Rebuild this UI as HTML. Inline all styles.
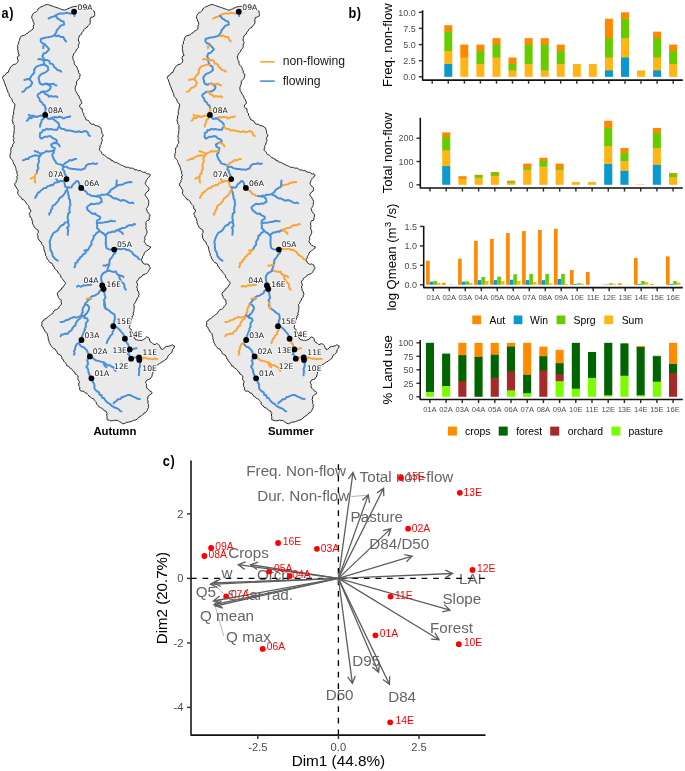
<!DOCTYPE html><html><head><meta charset="utf-8"><title>Figure</title><style>
html,body{margin:0;padding:0;background:#fff;}
body{width:685px;height:771px;overflow:hidden;}
svg{display:block;}
text{font-family:"Liberation Sans",Arial,sans-serif;}
.ml text{font-family:"DejaVu Sans",sans-serif;font-size:7.6px;fill:#151515;paint-order:stroke;stroke:#fafafa;stroke-width:2px;stroke-opacity:0.9;stroke-linejoin:round;}
.st{font-weight:bold;font-size:11.4px;fill:#000;}
.pl{font-weight:bold;font-size:14.8px;fill:#000;letter-spacing:0.7px;}
.leg{font-size:12.2px;fill:#1a1a1a;}
.tk{stroke:#333;stroke-width:1.45;}
.ax{stroke:#111;stroke-width:1.55;fill:none;stroke-linejoin:round;}
.yl{font-size:9px;fill:#4D4D4D;text-anchor:end;}
.xl{font-size:7.6px;fill:#4D4D4D;text-anchor:middle;}
.at{font-size:13.1px;fill:#000;text-anchor:middle;}
.lg{font-size:10.4px;fill:#000;}
.dl{stroke:#000;stroke-width:1.35;stroke-dasharray:5.7 5.83;}
.vl text{font-size:15.2px;fill:#666;}
.il text{font-size:10.3px;fill:#FF0000;}
.pyl{font-size:11.2px;fill:#4D4D4D;text-anchor:end;}
.pxl{font-size:11.2px;fill:#4D4D4D;text-anchor:middle;}
.pat{font-size:15.3px;fill:#000;text-anchor:middle;}
</style></head><body>
<svg width="685" height="771" viewBox="0 0 685 771">
<defs><polygon id="basin" fill="#EAEAEA" stroke="#1c1c1c" stroke-width="0.95" stroke-linejoin="round" points="32.3,15.2 33.4,13.4 34.4,12.5 35.8,12.3 36.7,11.4 37.5,10.5 38.1,8.8 39.9,7.6 41,6.8 42.2,6.4 43.4,6 44.5,5.3 46,4.8 47.4,4.4 48.6,4.8 49.8,5.2 51,5.6 52.2,6.1 53.4,6.5 54.6,6.9 55.8,7.3 57,7.7 58.2,8.1 59.4,8.5 60.6,9 61.8,9.4 63,9.8 64.2,10.2 65.5,9.8 66.7,9.3 67.9,8.8 69.1,8.2 70.5,7.6 72,7 73.5,6.7 74.9,6.4 76.5,6.4 78,6 79.3,5.3 80.6,5.2 82,5.8 83.3,6.3 84.7,5.6 86,6 87.3,6 88.1,7.3 89.5,7 90.7,7.9 91.8,8.8 92.7,10.3 94.2,11.1 94.7,13.4 94.7,14.6 94.7,15.8 93,16.9 90.7,17.5 90.2,19.2 90.1,21 90.3,22.8 89.5,24.5 88.6,25.3 87.6,26.1 87.2,27.4 86,28 84.8,28.6 83.9,29.6 83.6,30.9 82.6,31.6 81.9,32.7 81.5,34.2 80.1,35 79.2,36 79,37.4 78.5,38.7 78.3,40 78.8,41.3 79.4,42.5 79,43.9 78.3,45.1 78.6,46.5 78.3,47.8 77.2,48.9 76.2,50.1 75.8,51.7 74.7,52.8 73.6,54 73.2,55.6 72.5,56.9 73.1,58.2 73,59.6 73.8,60.8 74.4,62 74.2,63.6 74.8,64.8 75.8,65.9 76.9,67 77.5,68.3 77.7,69.8 78.7,70.9 78.4,72.7 79.7,73.7 80.3,75 79.7,76.2 79.7,77.7 79,78.9 78.1,79.8 77.4,80.7 76.4,81.5 76.6,83.1 76.4,84.7 75.6,86.3 75.1,88 75.4,89.3 75.4,90.8 76.4,91.9 77.1,93.3 77.6,94.8 79,95.8 79.2,97.3 79.6,98.7 80.9,99.7 80.9,101 81.8,102.2 81.6,103.6 80.2,104.5 79.6,106.1 80,107.4 80.9,108.2 82.2,108.7 82.3,110 82.4,111.4 82.9,112.6 83.9,113.7 83.7,115.4 84.8,116.5 85.4,118.2 86.1,119.8 87.4,120.2 88.6,120.5 89.4,121.7 90.2,123 91.1,124 92.6,124.3 94.1,124.2 95.1,125.6 96.5,125.6 98.1,126.1 99.7,126.9 100.8,128 101.3,129.4 101.7,130.8 101.8,132.2 102.1,133.6 103,134.7 103.2,136.2 102,137.2 101.7,138.6 102.4,140.1 101.8,141.6 101.2,142.8 101.4,144.2 100.3,145.2 99.9,146.5 100.2,147.9 99.2,149 99.6,150.4 100.6,151.3 101.7,152.2 102,153.7 102.9,154.7 104.4,154.9 105.3,155.8 106.3,156.8 107.2,157.8 108.7,158 109.5,159.1 110.9,159.1 111.4,160.7 112.9,160.5 113.6,161.9 114.7,162.3 116.1,162.2 117.1,162.9 118.2,163.5 119.3,164 120.4,164.7 121.5,165.2 122.7,165.6 123.8,166.2 125,166.6 126.1,167.5 127.5,167.2 128.7,167.4 129.9,168.1 131.2,168.1 132.6,168.2 133.8,168.7 134.8,170 136.2,169.8 137.5,170.2 138.7,170.7 140.2,170.4 141.3,171.3 142.4,172 143.7,172.3 145.3,172.2 146.3,173.5 147.7,174 149.3,173.8 150.4,174.9 149.4,176.9 148.3,177.6 147.5,178.5 147,179.7 146.1,180.7 146,182.1 145.2,183.2 145.7,184.4 146.3,185.5 147.3,186.3 148.7,187.5 148.9,189.4 148.3,191.1 146.8,192 146,193.1 145.1,194.1 145.2,195.6 146.5,196.7 147.3,198.2 148.2,199.7 148.9,201.3 148.6,202.7 148.7,204.1 148.3,205.5 147.8,206.6 147.2,207.7 146.3,208.6 147,210.1 147.3,211.7 148.1,212.8 149.2,213.6 149.9,214.8 149.9,216.2 149.2,217.6 149.4,219 148.8,220.3 147.3,220.6 146.3,221.5 145.8,222.7 146.2,224 145.8,225.2 146.4,226.5 145.7,228 146.3,229.3 146.8,230.7 147.1,232 146.8,233.5 146.2,234.9 145.2,236.1 144.7,237.6 145.1,239.1 144.6,240.4 144.2,241.8 145.4,243.1 146.2,244.6 147.1,245.6 148.4,245.6 149.3,246.7 150.6,246.8 150.2,248.2 149.1,249 148,250.1 146.6,250.8 145.5,251.9 144.3,252.7 144.1,254.1 143.6,255.4 142.6,256.3 142.6,257.9 141.6,259.2 141.1,260.7 142.4,261.4 142.7,262.9 144,263.6 145.1,264.4 146.7,263.9 147.9,264.4 149.1,265 149.5,266.7 150.6,268 149.7,269.1 148.8,270.2 148.4,271.6 147.4,272.5 146.5,273.5 145.3,274 144,274.5 142.7,274.9 142.1,276.2 141.1,276.9 140,277.6 138.9,278.2 138.5,279.4 137.9,280.5 136.7,281.2 136.7,282.6 137.4,284 137.7,285.4 136.6,287 137.4,288.4 137.3,289.7 137.6,291 138.8,291.8 138.6,293.3 139.6,294.2 138.5,295.1 138.8,296.7 137.6,297.6 136.9,298.7 136.7,300.1 135.8,301.1 135.2,302.3 134.8,303.6 133.8,304.5 134,305.7 134.2,306.9 134.4,308.1 133.7,309.4 134.1,310.6 133.8,311.8 133,313.1 133.7,314.9 132.1,316 132.3,317.6 131.7,319 131,320.4 130.7,321.8 130.9,323.4 129.9,324.7 129.8,326.3 129.4,327.8 130.1,328.8 131.4,329.5 131.5,331 132.3,332.5 133.6,333.5 134.2,334.7 134.2,336 134.1,337.3 135,339.1 136.1,339.7 137.4,340 138.6,340.4 139.8,340.1 141.1,340.7 142.2,340 143.4,339.7 144.5,339.1 145.5,337.8 146.8,336.8 148.6,337.7 149.4,338.7 149.5,340 150,341.5 151.3,342.3 152.7,343.4 154,344.5 155.3,344.4 156.3,343.6 157.5,343.9 158.6,344.5 159.6,345.4 159.9,346.8 160.6,348 161.3,349.1 162.7,349.3 164,348.6 165.1,347.1 166.7,346.3 168.2,346.5 169.5,345.9 171.1,345.7 172.2,344.5 173.1,345.6 174.5,345.9 174,348.1 172.7,349.3 172.2,350.9 171.9,352.6 170.4,353.6 169.3,354.7 168.1,355.7 167.6,357.2 167.1,358.5 166,359.2 164.9,359.9 163.7,361.1 162.2,361.8 160.8,362.7 159.5,363.6 158.4,364.3 157.2,364.9 156.3,366 155.1,366.7 154.5,368 154.5,369.5 153.9,370.7 152.7,371.7 153,373.2 152.2,374.5 152.2,376 151.3,377.2 150.3,378.8 148.6,379.5 146.8,380.1 145.9,381.7 145.5,383 146.7,384.1 146.3,385.4 146.5,386.8 146.8,388.1 147.9,388.8 148.8,389.7 149.5,390.8 151,391.5 152.2,392.6 151.3,394 150.1,394.6 149.1,395.4 148.1,396.2 147.9,398 147.4,399.7 148,400.9 148,402.1 147.9,403.4 148.7,404.7 148.3,406.3 148.6,407.7 147.6,409.1 147.2,410.7 146.3,411.5 145.5,412.6 144.2,412.8 143.6,414.1 142.4,414.9 141.3,415.8 140.2,416.4 139.1,417 138.4,418 137,419.2 135.5,420.1 133.9,420.2 132.5,420.9 131.1,421.6 129.6,421.9 128.2,422.2 126.7,422.3 125.3,423.1 123.8,423.8 121.6,423.1 120.8,422.1 119.6,421.7 118.7,420.9 117.5,420.4 116.2,420.4 115,420.1 113.6,420.7 112.1,420.6 110.7,420.9 109.3,420.2 107.7,420.1 106.9,419 107.1,417.7 107,416.5 106.7,415 107.1,413.5 106.3,412.1 105.7,410.9 104.3,410.8 103.4,409.9 102.7,408.7 101.6,408.1 100.4,407.7 99.2,407 98.4,405.8 97.5,404.8 96.3,404 96.4,402.4 95.5,401.4 94.6,400.4 94,399.2 92.9,398.6 91.7,398.2 90.4,397 88.8,396.1 88.3,394.9 87.4,394 86.6,393.1 85.1,392.9 84.2,391.6 82.9,391 81.3,391.3 80,390.2 79.4,389 80.1,387.7 78.9,386.5 78.8,385.3 78.7,384 79.1,382.7 79.4,381.3 78.2,380.1 77.8,378.8 78.2,377.3 77.7,375.6 76.4,374.5 75.1,374 74.9,372.4 73.6,371.8 72.9,370.7 72.1,369.7 71.3,368.7 70,368.2 69.2,367.2 68.5,366.1 66.8,365.9 66.4,364.5 65.8,363.1 64.5,362.1 63.6,360.9 63.3,359.6 61.9,358.7 61.8,357.3 61.2,356.1 60.4,355 59.1,354.5 57.7,353.8 57.1,352.4 56.5,351.1 55.5,350 54.9,348.8 53.4,348.5 52.4,347.6 51.8,346.4 50.6,345.4 50.1,343.8 49.1,342.7 49.2,341.3 48.5,340 48.2,338.7 48.2,337.3 47.8,336.1 47.4,334.9 47.3,333.6 46.3,332.5 45,331.6 44.5,330 43.6,328.8 43.2,327.2 41.8,326.4 41.7,325.2 42.1,323.9 41.8,322.7 42.3,321.2 43.8,320.5 44.5,319.1 45.9,318.6 47.1,317.7 48.3,316.6 49.5,315.8 50.4,314.9 51.5,314.1 52.7,313.5 53.2,312.2 54,310.9 55,310 56.5,309.5 57.7,308.8 58.8,307.9 59.3,306.6 60.2,305.5 61.2,304.6 61.6,303.2 61,301.6 61.5,300.2 60.3,299.5 59.2,298.7 58.5,297.5 58.2,296.2 57.5,295 57.3,293.6 57.9,292.2 59.3,291.4 60,290 61.3,289.5 61.6,288 62.9,287.5 63.6,286.4 64.4,284.9 65.5,283.6 65.2,282.2 64.2,281.3 63.1,280.4 62.7,279.1 61.7,278.2 60.8,277.1 60.7,275.7 60,274.5 59,273.4 57.8,272.4 57.3,270.9 56.2,270.1 55.3,269.3 54.5,268.2 54.2,266.8 52.9,266 52.7,264.5 51.7,263 50,262.7 49.1,261.5 48.3,260.2 47.3,259.1 46.7,257.9 46.5,256.5 45.5,255.5 45.6,253.9 44.9,252.4 44.5,250.9 44,249.6 43.9,248.1 43.6,246.7 42.7,245.5 41.9,244.5 41.5,243.1 41.1,241.8 39.8,241.1 39.1,240 38.3,238.7 37.8,237.4 38,235.8 37.3,234.5 37.8,233.4 38.5,232.3 38.2,230.9 37.7,229.6 36.4,229.1 35.2,228.1 34.2,227 33.6,225.5 32.8,224.2 32.3,222.9 32.5,221.3 31.8,220 31.7,218.7 31.2,217.6 29.9,216.9 30.1,215.4 29.1,214.5 29.5,213.2 30.2,212.1 30.9,210.9 30.6,209.7 29.3,209 28.8,207.9 29.2,206.4 28.2,205.5 27.1,204.4 26.2,203.2 25.5,201.8 24.7,200.8 23.8,199.8 22.2,199.6 21.8,198.2 20.7,197.4 19.9,196.4 19.1,195.4 18.2,194.5 17.6,193.2 17.9,191.8 18.2,190.3 17.3,189.1 16.6,188.1 16.2,186.9 15.1,186 14.8,184.8 14.5,183.6 15.6,182.9 16.4,181.8 16,180.5 17.2,179.4 17.4,178.2 16.4,176.9 17.8,175.8 17.3,174.5 16.8,173.3 17.1,172 16.7,170.8 15.8,169.8 16,168.4 15.5,167.3 15.1,166.1 14.8,164.9 13.5,164.1 13.6,162.7 12.7,161.8 12.7,160.4 11.8,159.5 11.1,158.5 10.1,157.7 10,156.4 10.1,155.2 10.1,153.9 10.8,152.8 10.8,151.6 10.8,150.3 10.9,149.1 11,147.8 12.2,147 12.7,145.9 12.7,144.5 13.6,143.6 14.1,142.3 13.8,141 13.1,139.7 14.2,138.4 13.1,137.1 13.4,135.8 13.6,134.5 14,133.2 14,131.9 14.1,130.7 14.3,129.4 14.2,128.1 14.1,126.8 14.5,125.5 13.5,124.6 12.9,123.5 13.1,122 12.3,121 12.3,119.5 12.9,118.3 12.8,116.9 13,115.6 13.6,114.4 13.6,113 13.6,111.7 13.7,110.3 14.3,109.1 14.4,107.5 14.9,105.9 14.7,104.1 13.6,102.6 12.4,101.6 12.3,100 11.4,98.7 10.4,97.4 9.4,96.3 9.1,94.9 9,93.5 8,92.4 7.8,91 6.9,89.4 6.5,87.7 5.7,86.2 5.2,84.5 4.6,82.8 3.9,81.2 3.6,79.7 2.6,78.6 2.7,77.3 3.2,76 4.8,75.4 5.8,74.1 6.8,72.7 8.4,72.2 8.8,70.4 9.7,68.9 10.3,67.3 11.7,66.3 12.7,64.9 14.3,64.4 15.6,64.1 16.6,63.3 17.5,62.4 18.2,60.5 17.4,58.9 17.5,57.2 18.2,55.9 19.5,55.3 18.7,54.1 18.2,52.7 18.2,51 17.5,49.5 17.9,48.2 17.8,46.9 17.5,45.6 18.3,44.4 18.8,43 18.7,41.6 19.5,40.4 19.7,39.1 20.1,37.8 20.7,36.5 22,35.8 23.3,35.5 24.6,35.2 25.7,34.6 26.6,33.5 27.9,33.2 28.6,32 29.8,31.3 31.8,30 32.9,29.2 33.4,28 33.1,26.1 34,24.5 34,23.2 33.7,22 32.8,21 32.8,19.3 31.7,18.1 31.8,16.6"/><polyline id="r0" points="74.1,11.7 71.4,13.5 69.2,13.4 66.7,12.8 64.3,13.4 62,13.4 59.5,13.5 57.6,14.4 55,15.8"/><polyline id="r1" points="55,15.8 53.2,16.6 50.9,17.3 48.6,18.5"/><polyline id="r2" points="74.1,11.7 74.6,13.8 74.3,16"/><polyline id="r3" points="55,15.8 56.6,17.1 57.7,18.6 59.6,19.5 61.3,20.9 63.5,21.4 64.2,24.6 62.1,25.1 60.2,26.1 58.2,28.8 56.8,30.2 56.3,32.2 54.5,35"/><polyline id="r4" points="54.5,35 56,36.2 58.7,35.5 60.9,37.1 63.5,37 64.4,39.5 66.1,41.5"/><polyline id="r5" points="54.5,35 52.8,36.1 50.4,36.8 48.1,37.2 45.7,37.5 43.1,38.3 40.8,39 40.7,41.4 42.4,43.3 44.7,44 46.3,46 47.9,47.6 49.2,49.4 46.9,51.7 45.8,52.9 43.7,53.3 42.3,56.5 43.8,58.5 43.5,60.9 44.1,63.1 44.9,65 47.8,66.6 48.3,70.1 46,72 44.2,73 42.2,73.6 40.7,74.5 39.7,75.9 38.5,77.8 39.1,80 39.4,82 40.3,83.8 42.5,84.7 45.1,83.8 47.4,83.6 48.9,85.2 50.8,86.4 50.4,88.6 49.2,89.9 47.3,91.2 45.2,91.6 43.1,91.7 41.1,92 39.8,93.4 38,94.2 37.5,96 39.5,98.8 40,101.1 42,102.3 42.9,104.3 44.6,105.4 45.6,108.5"/><polyline id="r6" points="45.6,108.5 45.4,110.4 44.8,112.6 45.2,114.9"/><polyline id="r7" points="43.6,45.6 43.2,48.2"/><polyline id="r8" points="45.1,64.9 43.7,64.7 41.7,64.7 39.9,65.4 37.6,66 35.9,67.1 34,69.8 34.3,71.8 33.6,73.5 32.1,75 30.9,76.5 29.8,79.4 30.8,80.7 32.2,82.5 30.8,85.8 28.8,87.2 26.3,88.1 25.2,89.8 23.8,91.4 22.3,91.9"/><polyline id="r9" points="29.5,79.4 27.9,79 25.8,79.5 24.3,80"/><polyline id="r10" points="44.1,59.5 42.4,59.9 40,59 38.3,59.2"/><polyline id="r11" points="44.1,59.5 45.9,60.4 47.6,60 49.3,61 49.8,63.4 52,63.8 53.5,65.3 54.2,67.2 56.1,68.3 57.2,70.1 59.7,70.4 61.2,71.6"/><polyline id="r12" points="45.1,84.1 47,84.3 49.2,84.1 51,84.3 53.2,83.6 54.9,85 56.5,85.4"/><polyline id="r13" points="43,91.4 44.2,92.8 45.8,94.4 47.8,94.7 49,96.7 51.3,95.9 53.4,96.8 55.8,96.2 57.5,97.1"/><polyline id="r14" points="45.2,115.5 43.7,116 41.2,115.6 39.2,115.9 36.9,117 34.6,116.2 32.7,116.9 31.2,118.2 29.1,117.5 28.1,119.8 26.8,120.8"/><polyline id="r15" points="34.7,116.6 33.1,115.7 30.4,115.8 28.8,114.9"/><polyline id="r16" points="50.5,118.6 53.1,117.4 54.8,117.1 56.9,117.5 59.1,116.8 61.4,117.2 63.6,118.6 65.3,117.6 67.3,117 69.2,117.1 70.2,116.2"/><polyline id="r17" points="45.2,114.9 46.5,116.6 47.5,118.3 48.9,119 51.2,118.3 53.3,119.1 55.3,120.8 57.1,122 58.9,123.9 59.2,126 58.1,127.7 57.2,129.8 55.1,129.8 52.8,129.6 50.5,129.1 48.7,129.5 46.5,128.7 44.8,130.2 42.8,130 42.1,132.2 40.1,132.9 40,134.6 39.8,137 41.2,138.7 42.8,137.8 44.8,136.7 47.2,136.8 49.1,136.1 51.2,136.5 52.7,138.2 54.3,138.7 56.6,140 57,141.8 54.2,142.5 52.3,144 51.1,144.5 51.9,146.9 54.8,148.1 54.1,150.2 53.8,152.5 52.5,154 52.4,155.9 53.3,157.6 54,159.6 55.4,161.2 56.2,163.1 58,163.9 59.6,164.3 62.7,165.1 63.2,167.2 62.6,169.5 64.3,171 64.6,173.4 65.6,175.3 66.7,177.4 66.4,179.1"/><polyline id="r18" points="45.2,115.5 44.4,116.7 43.7,118.6 41.8,119.8 41.3,122.1 40.3,124.6 40,126.7"/><polyline id="r19" points="59,126 61,128.6 62.4,128.9 64.2,129 65.8,130.4 67.7,130.2 69.8,130.6 71.9,131 74.1,131.5 76.3,132.1 78.6,131.2 80.7,132 82.6,132.1 84.4,131 86.3,131.3 87.9,132.8 88.5,135.1 89.9,135.9"/><polyline id="r20" points="54.4,143.1 57.3,143.4 58.9,144.8 59.7,146.4"/><polyline id="r21" points="53.5,150.3 52.3,151.1 50.4,151.2 48.3,151.5 46.3,151 44.7,152.4 43,152.9 41.3,154.2 39.6,153.2 37.9,152 35.9,151.5 34.7,151"/><polyline id="r22" points="41.3,153.6 40.2,155.2 39.1,157.5 38.5,159.2 39.2,161 38.5,162.8 37.9,164.5 37.7,166.3 38.5,168.2 37.3,170 36.9,171.9 36.7,173.3"/><polyline id="r23" points="36.7,173.3 35.4,174.5 34.6,177.2 32.5,177.6 30.8,178.6"/><polyline id="r24" points="34.7,177.3 34.8,178.9 34.8,181 35.4,182.5"/><polyline id="r25" points="40.3,155.8 38.9,156.1 36.8,155.2 34.6,155.5 32.9,156 31.2,156.7 29.5,157.1 28.4,158.9 26,158.8 24.3,160 22.9,160.2"/><polyline id="r26" points="62.8,166.5 64.1,167.1 66.2,166.6 68.2,167.9 70.1,168.6 72.4,169.1 74.6,169.1 76.8,169.6 79.1,169.4 81.4,169.8 83.1,168.9 84.8,168.5 85.6,166.8 86.4,165.1 88.7,164 91.3,163.8 93.3,163.3 95.5,164.1 97.1,163.5"/><polyline id="r27" points="62.3,165.4 63.9,164.5 65.7,162.7 67.8,161.8 69.4,160.1 71.6,160.5 74,159.3 76.1,158.9"/><polyline id="r28" points="66.4,179.1 65.6,180.7 64.4,182.3 64.8,184.5 65.1,186.5 67,187.3"/><polyline id="r29" points="67,187.3 69.4,187.4 71.4,187.4 72.4,185.3 73.6,183.9 75.2,182.7 76.5,181.1 78,181.2 79.2,183 79.3,184.9 80.7,186.5 81.2,187.9"/><polyline id="r30" points="81.2,187.9 82.4,189 84.6,190.7 86.2,191.7 87.5,193.9 89.7,194.6 91.2,195.7 93.5,196"/><polyline id="r31" points="93.5,196 96.6,196.5 98.4,196.3 99.9,197.6 101.3,198.6 101.7,200.8 101.6,202.3 100.4,202.3 98.8,203.7 96.6,203.4 94.9,204.2 93,204 91.1,203.8 89.9,204.8 88,206 86.7,207.7 87.6,209.9 89.9,211.7 91.1,212.9 92.9,213.9 95.2,213.4 96.4,215.1 98.8,216.1 100.3,217.3 99.7,219.2 97.2,220.3 96.8,222.7 97,224.4 97.3,226 97,228.1 98.5,229.5 100,231.2 101.6,232.5 103.7,233.5 104.7,235.2 106,236.3 106,238.2 105.7,240.1 106,241.9 105.6,243.6 106.1,245.3 106.4,247.9 108.4,249.1 110,249.6 112.4,249.5 114.2,249.6"/><polyline id="r32" points="96.6,196.3 97.7,195.4 99.6,196 101.4,194.8 103.6,194.7 105.6,194.5 107.3,194.1 108.8,192.6 110.1,191.6 110.7,189.9 112.2,189.2 113.9,187.8 115.9,187.1 116.7,185.8"/><polyline id="r33" points="116.7,185.8 118.2,185.2 120.4,184.7 123,184.5 124.5,183.2 126.5,182.8 128.5,182.2 130.3,182 131.6,182.3"/><polyline id="r34" points="116.7,185.8 116.4,184.2 116.7,182.1 116.7,180.5"/><polyline id="r35" points="107.1,193.7 108,195 110.1,195.6 112,197.1 113.9,198.5 115.9,198.3 117.4,199.2 119.1,199.8 120.8,200.8 123.1,200 124.8,200.5 126.7,201.4 128.6,202.6 130.5,203.1 132.4,202.5 133.4,203.3"/><polyline id="r36" points="98,223 99.5,222.7 101.5,222.7 103.6,222.5 105.3,222.1 107,222 108.8,221.5 111,220.8 113.3,221.2 115,221.2"/><polyline id="r37" points="105.3,234.8 106.6,234.2 108.3,232.6 110.7,232.5 112.3,231.4 114.6,231.8 116.2,230.3 117.6,230.4"/><polyline id="r38" points="117.6,230.4 118.6,229.3 120.4,229.1 122.2,227.9 124.6,228 126.4,226.9 128.1,225.6 130.1,225 132.3,225.4 133.8,224.1 135.1,224.3"/><polyline id="r39" points="119,230.5 120.2,231.5 122,232.6 122.9,233.9"/><polyline id="r40" points="99,231 98.1,232.2 96.2,233.3 95.2,235.1 93.5,236.2 93.6,238.3 92.5,240.1 91.3,242 91.5,244.5 90,246.1 89.2,247.8 88.2,249.4 87.4,250.4"/><polyline id="r41" points="87.4,250.4 85.9,250.9 85.4,253.4 83.2,254.3 82,256.1 80.1,257.3 79.4,259.4 77.6,260.3 77.4,262.3 75.4,262.9 75.2,265.6 74.5,267.3"/><polyline id="r42" points="87.6,250 84.3,250.6"/><polyline id="r43" points="67.5,188 66.9,190.1 68.2,192.7 68.1,194.5 68.9,196.1 68.7,198.2 69.9,199.6 70.1,201.4 70.1,203.2 70.5,205 69.6,206.7 69.5,208.5 69.4,210.3 70,212.2 68.1,213.6 68,215.6 67.6,217.3 67.8,219 68.2,220.7 67.9,222.6 68.7,224.3 68.7,226.2 67.1,227.8 68.1,229.6 68,231.7 67.8,233.5 67.7,234.8"/><polyline id="r44" points="68.3,221 67.3,222.3 64.8,222.4 63.6,224.7 61.7,225.2 60.3,226.5 59.1,228 58.2,229.8 56.8,231.1 55,232 53.4,233 52.6,234.6 51.6,236.4 50.8,238.2 50.2,240.1 49.6,241.9 50.1,244 50.1,246.1 50.2,248 50.6,250.4 52,252.4 52.4,254.3 52.8,256.3 54.1,257.5 55,258.9 57.7,260.6"/><polyline id="r45" points="67.3,190 65.9,190.7 65.1,192.8 63.8,194.7 62.4,196.3 60.8,197.4 59.3,198.4 58.5,200.3 57.5,201.8 56.2,202.9 55.4,204.4 53.6,205.2 52.2,206.4 52.4,208.5 50.8,210 50.8,212.1 49.2,213.3 49.3,214.7"/><polyline id="r46" points="64.5,180.5 62.8,181.3 60.3,180.7 58.3,182.1 56.2,182.4 54.2,183.1 52.9,185.2 50.9,184.9 49.3,185.9 47.3,186.2 46.1,188.1 44,188.1 42.5,189.5 40.9,190.5 39.7,192 37.7,193 36.9,195.1 35.7,196.7 35.3,198"/><polyline id="r47" points="56.3,179.3 58.5,181.8"/><polyline id="r48" points="108,271 109.6,270.6 111.7,271.6 113.7,271.9 116,271.6 116.8,273.8 118.5,274.8 120.3,275.8 122.6,276 123.5,277.3"/><polyline id="r49" points="118.7,275 119.3,276.3 119.5,278.4 120.6,279.9 121.5,282 123.5,283.4 124.4,284.8 124.3,287 125.1,288.7 125.9,289.8"/><polyline id="r50" points="114.2,249.6 115.1,251 115.4,252.8 113.8,254.1 112.5,256.3 111.2,258.2 109.6,260 109.5,262.1 109.3,264.2 108.4,266.6 107.6,269 107.1,270.9 105.7,272 103.8,272.8 102.4,274.3 101.3,276.1 101.2,278.5 101.2,280.2 102,282.1 101.6,284.2 102.2,285.4"/><polyline id="r51" points="109.2,265 107.4,264.5 105.2,265.8 103.4,265.4"/><polyline id="r52" points="114.2,249.6 115.8,249.3 118,248.7 120.3,249.4 122.4,248.8 124.7,248.4 126.6,250 128.6,249.8 130.1,251 131.9,252 133,253.9 134.2,255.2 135.9,256.2 137.7,257.1 138.4,258.9 139.6,259.3"/><polyline id="r53" points="91.4,284.6 89.9,284.9 87.8,285 85.5,285.6 83.3,285.2 81,286.8 78.4,285.7 76.9,286.6"/><polyline id="r54" points="102.2,285.4 101.9,287.4 101.3,289.9 99.7,290.9 99.1,292.7 97.8,293.8 96.2,294.6 94.6,295.7 92.9,296 90.9,296.9 90.2,299.1 88.2,299.9 87.1,301.6 84.8,304.1 87.6,305 89.2,307.4 89,309.3 88.1,311 86.8,313.3 84.6,315.1 84.1,317.7 87.2,318.5 87.9,320.6 85.8,323.3 85.8,325 85.9,326.8 84.7,328.5 84.8,330.2 83.4,333 82.6,335.1 81.7,337.2 81.5,340"/><polyline id="r55" points="86.6,298.9 89,298.1 91.4,298.6"/><polyline id="r56" points="85,304 84.3,306 82.9,308.3 82.4,310 82.9,311.9 81.7,313.5 81.6,315.5 78.8,316.9 76.3,317.4 73.5,317.1 72.2,317.8 70.3,318.4 68.4,319.7 65.8,320.3 64.1,321.4 62.1,322.1 60.5,322"/><polyline id="r57" points="81.5,315.4 80.9,317 80.1,318.5 77.7,320.3 75.8,323 75.5,325.4 73.5,326.7 72.4,328.6 71.3,330.5 69.1,331.8 67.6,334 65.4,333.6 63.2,334.6 61.4,334.6 60.5,336.4"/><polyline id="r58" points="81.5,315.4 83.3,316.6 85,315.4"/><polyline id="r59" points="103.6,288.9 103.2,290.7 104.5,292.9 104.7,295.3 105.5,297.8 103.9,300.1 104.7,302.6 104.1,305.2 104.9,307.5 107.2,309.3 109.1,310.5 110.8,312.2 112.5,313.3 114.4,314.3 114.8,316.5 115,318.7 114,321.1 114,323.5 113.3,326.2"/><polyline id="r60" points="104.2,302.6 104.9,304.4 105.2,307.1 105.8,309"/><polyline id="r61" points="113.3,326.2 114.3,327.7 113.8,329.9 112.6,331.7 112.5,334 110.3,335.8 109.7,337.5 108.1,339.4 107.2,341.5 106.7,343.1"/><polyline id="r62" points="113.3,326.2 115.1,326.3 117.1,327.5 118.4,328.7 119.9,330.1 121,331.6 122.5,333.1 123.5,334.7 124.8,336.8 124.9,338.7"/><polyline id="r63" points="124.9,338.7 125,340.3 126.3,342 127.7,343.7 128.6,345.7 129.3,347.8 129.7,349.4"/><polyline id="r64" points="129.7,349.4 133,348.9 135,348.5 136.6,348.2"/><polyline id="r65" points="129.7,349.4 129.2,351.5 127.9,354.1 129.7,355.6 130.6,357.3 131.1,358.7"/><polyline id="r66" points="131.1,358.7 132.6,358.6 134.5,357.4 137,357.4 139,358"/><polyline id="r67" points="140,358.5 141.9,359 143.7,357.4 146,358.3 148,358.7 150.6,358.8 152.8,359.2 155.3,358.6 157.1,359.2"/><polyline id="r68" points="139.3,359.9 139.9,361.1 139.8,363 140.1,365 139.8,367 138.8,369 139.3,370.9 139,373.5 138.8,375.3"/><polyline id="r69" points="81.5,340 80.3,341.6 78.9,343.1 79.8,344.8 81.5,346.6 83.8,347.3 85.5,349 86.8,350.3 87.6,352 88,353.6 89.9,356.4"/><polyline id="r70" points="79,343.1 76.8,344 76.1,345.4 75.2,347.5 75.1,349.3 74,351.3 74.7,353.5 73.9,354.8"/><polyline id="r71" points="89.9,356.4 91.3,356.7 92.6,358.2 94.3,359.2 95.8,360.4 97.6,360.7 99.3,361.1 101.7,361.9 104.2,362.4 104.2,365 105.4,366.4 106.5,367.3"/><polyline id="r72" points="103.8,362.8 105.4,363.6 107.4,365.2 109.9,365.3 111.8,366.7 113.8,367.5 114.5,369.7 115.5,370.9"/><polyline id="r73" points="89.9,356.4 88.5,358 87.1,360.5 88,362.6 87.8,364.6 86.3,366.6 87.6,368.4 88.2,370.2 88.5,372.3 89.3,374.4 90.1,376.6 91.3,378.4 92.5,380.5 93.2,382.7 94.4,384.4 94.4,386.5 94.5,388.7 95.8,390.2 97.3,391.5 99.1,392.4 99.4,394.7 101.6,395.3 102,397.5 104.1,398.3 105.2,400.1 106.5,401.7 108.2,403.1 110.3,404.1 111.3,405.5 114.1,407.3 115.5,407.8 117.3,408.5 119.1,409.5 120.3,411.1 121.6,411.4"/><polyline id="r74" points="113.6,403.4 114.4,402.1 116.4,401.1 117.7,399.2 120.2,399.2 121.7,397.3 123.8,396.7 126.3,395.6 128.2,394.9 130.4,395.1 132.5,396.3 135.5,397.6 137.7,398.8 139.9,399"/></defs>
<g transform="translate(0,0)">
<use href="#basin"/>
<g fill="none" stroke-width="2.0" stroke-linecap="round" stroke-linejoin="round">
<use href="#r0" stroke="#4A90D9"/>
<use href="#r1" stroke="#4A90D9"/>
<use href="#r2" stroke="#4A90D9"/>
<use href="#r3" stroke="#4A90D9"/>
<use href="#r4" stroke="#4A90D9"/>
<use href="#r5" stroke="#4A90D9"/>
<use href="#r6" stroke="#4A90D9"/>
<use href="#r7" stroke="#4A90D9"/>
<use href="#r8" stroke="#4A90D9"/>
<use href="#r9" stroke="#4A90D9"/>
<use href="#r10" stroke="#4A90D9"/>
<use href="#r11" stroke="#4A90D9"/>
<use href="#r12" stroke="#4A90D9"/>
<use href="#r13" stroke="#4A90D9"/>
<use href="#r14" stroke="#4A90D9"/>
<use href="#r15" stroke="#4A90D9"/>
<use href="#r16" stroke="#4A90D9"/>
<use href="#r17" stroke="#4A90D9"/>
<use href="#r18" stroke="#4A90D9"/>
<use href="#r19" stroke="#4A90D9"/>
<use href="#r20" stroke="#4A90D9"/>
<use href="#r21" stroke="#4A90D9"/>
<use href="#r22" stroke="#4A90D9"/>
<use href="#r23" stroke="#F8A53C"/>
<use href="#r24" stroke="#F8A53C"/>
<use href="#r25" stroke="#4A90D9"/>
<use href="#r26" stroke="#4A90D9"/>
<use href="#r27" stroke="#4A90D9"/>
<use href="#r28" stroke="#4A90D9"/>
<use href="#r29" stroke="#4A90D9"/>
<use href="#r30" stroke="#4A90D9"/>
<use href="#r31" stroke="#4A90D9"/>
<use href="#r32" stroke="#4A90D9"/>
<use href="#r33" stroke="#4A90D9"/>
<use href="#r34" stroke="#4A90D9"/>
<use href="#r35" stroke="#4A90D9"/>
<use href="#r36" stroke="#4A90D9"/>
<use href="#r37" stroke="#4A90D9"/>
<use href="#r38" stroke="#4A90D9"/>
<use href="#r39" stroke="#4A90D9"/>
<use href="#r40" stroke="#4A90D9"/>
<use href="#r41" stroke="#4A90D9"/>
<use href="#r42" stroke="#4A90D9"/>
<use href="#r43" stroke="#4A90D9"/>
<use href="#r44" stroke="#4A90D9"/>
<use href="#r45" stroke="#4A90D9"/>
<use href="#r46" stroke="#4A90D9"/>
<use href="#r47" stroke="#4A90D9"/>
<use href="#r48" stroke="#4A90D9"/>
<use href="#r49" stroke="#4A90D9"/>
<use href="#r50" stroke="#4A90D9"/>
<use href="#r51" stroke="#4A90D9"/>
<use href="#r52" stroke="#4A90D9"/>
<use href="#r53" stroke="#4A90D9"/>
<use href="#r54" stroke="#4A90D9"/>
<use href="#r55" stroke="#F8A53C"/>
<use href="#r56" stroke="#4A90D9"/>
<use href="#r57" stroke="#4A90D9"/>
<use href="#r58" stroke="#4A90D9"/>
<use href="#r59" stroke="#4A90D9"/>
<use href="#r60" stroke="#4A90D9"/>
<use href="#r61" stroke="#4A90D9"/>
<use href="#r62" stroke="#4A90D9"/>
<use href="#r63" stroke="#4A90D9"/>
<use href="#r64" stroke="#4A90D9"/>
<use href="#r65" stroke="#4A90D9"/>
<use href="#r66" stroke="#4A90D9"/>
<use href="#r67" stroke="#F8A53C"/>
<use href="#r68" stroke="#4A90D9"/>
<use href="#r69" stroke="#4A90D9"/>
<use href="#r70" stroke="#4A90D9"/>
<use href="#r71" stroke="#4A90D9"/>
<use href="#r72" stroke="#4A90D9"/>
<use href="#r73" stroke="#4A90D9"/>
<use href="#r74" stroke="#4A90D9"/>
</g>
<g fill="#000">
<circle cx="74.1" cy="11.7" r="2.9"/>
<circle cx="45.2" cy="114.9" r="2.9"/>
<circle cx="66.5" cy="179.1" r="2.9"/>
<circle cx="81.2" cy="187.9" r="2.9"/>
<circle cx="114.2" cy="249.6" r="2.9"/>
<circle cx="102.2" cy="285.4" r="2.9"/>
<circle cx="103.6" cy="288.9" r="2.9"/>
<circle cx="113.3" cy="326.2" r="2.9"/>
<circle cx="124.9" cy="338.7" r="2.9"/>
<circle cx="129.7" cy="349.4" r="2.9"/>
<circle cx="131.1" cy="358.7" r="2.9"/>
<circle cx="139" cy="357.4" r="2.9"/>
<circle cx="139.3" cy="359.9" r="2.9"/>
<circle cx="81.5" cy="340" r="2.9"/>
<circle cx="89.9" cy="356.4" r="2.9"/>
<circle cx="91.4" cy="378.3" r="2.9"/>
</g>
<g class="ml">
<text x="77.6" y="9.8">09A</text>
<text x="48.1" y="112.6">08A</text>
<text x="48.3" y="177">07A</text>
<text x="84.3" y="185.9">06A</text>
<text x="117" y="247">05A</text>
<text x="83.6" y="283">04A</text>
<text x="106.5" y="286.6">16E</text>
<text x="116.5" y="323.8">15E</text>
<text x="128.2" y="336.8">14E</text>
<text x="112.4" y="352.9">13E</text>
<text x="114.1" y="369.1">12E</text>
<text x="142.6" y="354.8">11E</text>
<text x="142.3" y="370.6">10E</text>
<text x="84.5" y="337.6">03A</text>
<text x="92.7" y="354.1">02A</text>
<text x="94.4" y="376">01A</text>
</g>
<text class="st" x="93.4" y="434.6">Autumn</text>
</g>
<g transform="translate(164.7,0)">
<use href="#basin"/>
<g fill="none" stroke-width="2.0" stroke-linecap="round" stroke-linejoin="round">
<use href="#r0" stroke="#F8A53C"/>
<use href="#r1" stroke="#F8A53C"/>
<use href="#r2" stroke="#4A90D9"/>
<use href="#r3" stroke="#4A90D9"/>
<use href="#r4" stroke="#F8A53C"/>
<use href="#r5" stroke="#4A90D9"/>
<use href="#r6" stroke="#F8A53C"/>
<use href="#r7" stroke="#F8A53C"/>
<use href="#r8" stroke="#F8A53C"/>
<use href="#r9" stroke="#F8A53C"/>
<use href="#r10" stroke="#F8A53C"/>
<use href="#r11" stroke="#F8A53C"/>
<use href="#r12" stroke="#F8A53C"/>
<use href="#r13" stroke="#F8A53C"/>
<use href="#r14" stroke="#F8A53C"/>
<use href="#r15" stroke="#F8A53C"/>
<use href="#r16" stroke="#F8A53C"/>
<use href="#r17" stroke="#4A90D9"/>
<use href="#r18" stroke="#F8A53C"/>
<use href="#r19" stroke="#F8A53C"/>
<use href="#r20" stroke="#F8A53C"/>
<use href="#r21" stroke="#F8A53C"/>
<use href="#r22" stroke="#F8A53C"/>
<use href="#r23" stroke="#F8A53C"/>
<use href="#r24" stroke="#F8A53C"/>
<use href="#r25" stroke="#F8A53C"/>
<use href="#r26" stroke="#4A90D9"/>
<use href="#r27" stroke="#F8A53C"/>
<use href="#r28" stroke="#F8A53C"/>
<use href="#r29" stroke="#4A90D9"/>
<use href="#r30" stroke="#F8A53C"/>
<use href="#r31" stroke="#4A90D9"/>
<use href="#r32" stroke="#4A90D9"/>
<use href="#r33" stroke="#F8A53C"/>
<use href="#r34" stroke="#4A90D9"/>
<use href="#r35" stroke="#4A90D9"/>
<use href="#r36" stroke="#4A90D9"/>
<use href="#r37" stroke="#4A90D9"/>
<use href="#r38" stroke="#F8A53C"/>
<use href="#r39" stroke="#F8A53C"/>
<use href="#r40" stroke="#4A90D9"/>
<use href="#r41" stroke="#F8A53C"/>
<use href="#r42" stroke="#F8A53C"/>
<use href="#r43" stroke="#4A90D9"/>
<use href="#r44" stroke="#4A90D9"/>
<use href="#r45" stroke="#F8A53C"/>
<use href="#r46" stroke="#F8A53C"/>
<use href="#r47" stroke="#F8A53C"/>
<use href="#r48" stroke="#F8A53C"/>
<use href="#r49" stroke="#F8A53C"/>
<use href="#r50" stroke="#4A90D9"/>
<use href="#r51" stroke="#F8A53C"/>
<use href="#r52" stroke="#F8A53C"/>
<use href="#r53" stroke="#F8A53C"/>
<use href="#r54" stroke="#4A90D9"/>
<use href="#r55" stroke="#F8A53C"/>
<use href="#r56" stroke="#F8A53C"/>
<use href="#r57" stroke="#F8A53C"/>
<use href="#r58" stroke="#4A90D9"/>
<use href="#r59" stroke="#4A90D9"/>
<use href="#r60" stroke="#F8A53C"/>
<use href="#r61" stroke="#F8A53C"/>
<use href="#r62" stroke="#4A90D9"/>
<use href="#r63" stroke="#F8A53C"/>
<use href="#r64" stroke="#F8A53C"/>
<use href="#r65" stroke="#4A90D9"/>
<use href="#r66" stroke="#F8A53C"/>
<use href="#r67" stroke="#F8A53C"/>
<use href="#r68" stroke="#4A90D9"/>
<use href="#r69" stroke="#4A90D9"/>
<use href="#r70" stroke="#F8A53C"/>
<use href="#r71" stroke="#F8A53C"/>
<use href="#r72" stroke="#F8A53C"/>
<use href="#r73" stroke="#4A90D9"/>
<use href="#r74" stroke="#4A90D9"/>
</g>
<g fill="#000">
<circle cx="74.1" cy="11.7" r="2.9"/>
<circle cx="45.2" cy="114.9" r="2.9"/>
<circle cx="66.5" cy="179.1" r="2.9"/>
<circle cx="81.2" cy="187.9" r="2.9"/>
<circle cx="114.2" cy="249.6" r="2.9"/>
<circle cx="102.2" cy="285.4" r="2.9"/>
<circle cx="103.6" cy="288.9" r="2.9"/>
<circle cx="113.3" cy="326.2" r="2.9"/>
<circle cx="124.9" cy="338.7" r="2.9"/>
<circle cx="129.7" cy="349.4" r="2.9"/>
<circle cx="131.1" cy="358.7" r="2.9"/>
<circle cx="139" cy="357.4" r="2.9"/>
<circle cx="139.3" cy="359.9" r="2.9"/>
<circle cx="81.5" cy="340" r="2.9"/>
<circle cx="89.9" cy="356.4" r="2.9"/>
<circle cx="91.4" cy="378.3" r="2.9"/>
</g>
<g class="ml">
<text x="77.6" y="9.8">09A</text>
<text x="48.1" y="112.6">08A</text>
<text x="48.3" y="177">07A</text>
<text x="84.3" y="185.9">06A</text>
<text x="117" y="247">05A</text>
<text x="83.6" y="283">04A</text>
<text x="106.5" y="286.6">16E</text>
<text x="116.5" y="323.8">15E</text>
<text x="128.2" y="336.8">14E</text>
<text x="112.4" y="352.9">13E</text>
<text x="114.1" y="369.1">12E</text>
<text x="142.6" y="354.8">11E</text>
<text x="142.3" y="370.6">10E</text>
<text x="84.5" y="337.6">03A</text>
<text x="92.7" y="354.1">02A</text>
<text x="94.4" y="376">01A</text>
</g>
<text class="st" x="103.3" y="434.6">Summer</text>
</g>
<line x1="260.1" y1="61.8" x2="274.7" y2="61.8" stroke="#F8A53C" stroke-width="1.6"/>
<line x1="260.1" y1="81.1" x2="274.7" y2="81.1" stroke="#4A90D9" stroke-width="1.6"/>
<text class="leg" x="282.7" y="65.4">non-flowing</text>
<text class="leg" x="282.7" y="84.7">flowing</text>
<text class="pl" transform="translate(1.5,17.5) scale(0.86,1)">a)</text>
<text class="pl" transform="translate(348.4,17.5) scale(0.86,1)">b)</text>
<text class="pl" transform="translate(162.8,466) scale(0.86,1)">c)</text>
<rect x="444.3" y="63.44" width="8" height="13.41" fill="#0A99CC"/>
<rect x="444.3" y="50.53" width="8" height="13.41" fill="#FFB515"/>
<rect x="444.3" y="31.16" width="8" height="19.87" fill="#66CC00"/>
<rect x="444.3" y="25.21" width="8" height="6.45" fill="#FF8800"/>
<rect x="460.3" y="56.98" width="8" height="19.87" fill="#FFB515"/>
<rect x="460.3" y="44.57" width="8" height="12.91" fill="#FF8800"/>
<rect x="476.4" y="63.44" width="8" height="13.41" fill="#FFB515"/>
<rect x="476.4" y="50.53" width="8" height="13.41" fill="#66CC00"/>
<rect x="476.4" y="44.57" width="8" height="6.45" fill="#FF8800"/>
<rect x="492.5" y="56.98" width="8" height="19.87" fill="#FFB515"/>
<rect x="492.5" y="44.07" width="8" height="13.41" fill="#66CC00"/>
<rect x="492.5" y="38.12" width="8" height="6.46" fill="#FF8800"/>
<rect x="508.5" y="69.89" width="8" height="6.95" fill="#FFB515"/>
<rect x="508.5" y="63.44" width="8" height="6.95" fill="#66CC00"/>
<rect x="508.5" y="57.48" width="8" height="6.46" fill="#FF8800"/>
<rect x="524.6" y="63.44" width="8" height="13.41" fill="#FFB515"/>
<rect x="524.6" y="44.07" width="8" height="19.87" fill="#66CC00"/>
<rect x="524.6" y="38.12" width="8" height="6.46" fill="#FF8800"/>
<rect x="540.7" y="69.89" width="8" height="6.95" fill="#FFB515"/>
<rect x="540.7" y="44.07" width="8" height="26.32" fill="#66CC00"/>
<rect x="540.7" y="38.12" width="8" height="6.46" fill="#FF8800"/>
<rect x="556.7" y="63.44" width="8" height="13.41" fill="#FFB515"/>
<rect x="556.7" y="50.53" width="8" height="13.41" fill="#66CC00"/>
<rect x="556.7" y="44.57" width="8" height="6.45" fill="#FF8800"/>
<rect x="572.8" y="63.94" width="8" height="12.91" fill="#FFB515"/>
<rect x="588.8" y="63.94" width="8" height="12.91" fill="#FFB515"/>
<rect x="604.9" y="69.89" width="8" height="6.95" fill="#0A99CC"/>
<rect x="604.9" y="56.98" width="8" height="13.41" fill="#FFB515"/>
<rect x="604.9" y="37.62" width="8" height="19.87" fill="#66CC00"/>
<rect x="604.9" y="18.75" width="8" height="19.36" fill="#FF8800"/>
<rect x="621" y="56.98" width="8" height="19.87" fill="#0A99CC"/>
<rect x="621" y="37.62" width="8" height="19.87" fill="#FFB515"/>
<rect x="621" y="18.25" width="8" height="19.86" fill="#66CC00"/>
<rect x="621" y="12.30" width="8" height="6.45" fill="#FF8800"/>
<rect x="637" y="70.39" width="8" height="6.45" fill="#FFB515"/>
<rect x="653.1" y="69.89" width="8" height="6.95" fill="#0A99CC"/>
<rect x="653.1" y="56.98" width="8" height="13.41" fill="#FFB515"/>
<rect x="653.1" y="37.62" width="8" height="19.87" fill="#66CC00"/>
<rect x="653.1" y="31.66" width="8" height="6.45" fill="#FF8800"/>
<rect x="669.1" y="63.44" width="8" height="13.41" fill="#FFB515"/>
<rect x="669.1" y="50.53" width="8" height="13.41" fill="#66CC00"/>
<rect x="669.1" y="44.57" width="8" height="6.45" fill="#FF8800"/>
<line class="tk" x1="418.8" y1="76.8" x2="422.6" y2="76.8"/>
<text class="yl" x="415.8" y="80">0.0</text>
<line class="tk" x1="418.8" y1="60.7" x2="422.6" y2="60.7"/>
<text class="yl" x="415.8" y="63.9">2.5</text>
<line class="tk" x1="418.8" y1="44.6" x2="422.6" y2="44.6"/>
<text class="yl" x="415.8" y="47.8">5.0</text>
<line class="tk" x1="418.8" y1="28.4" x2="422.6" y2="28.4"/>
<text class="yl" x="415.8" y="31.6">7.5</text>
<line class="tk" x1="418.8" y1="12.3" x2="422.6" y2="12.3"/>
<text class="yl" x="415.8" y="15.5">10.0</text>
<line class="tk" x1="432.2" y1="80.1" x2="432.2" y2="83.7"/>
<line class="tk" x1="448.3" y1="80.1" x2="448.3" y2="83.7"/>
<line class="tk" x1="464.4" y1="80.1" x2="464.4" y2="83.7"/>
<line class="tk" x1="480.4" y1="80.1" x2="480.4" y2="83.7"/>
<line class="tk" x1="496.5" y1="80.1" x2="496.5" y2="83.7"/>
<line class="tk" x1="512.5" y1="80.1" x2="512.5" y2="83.7"/>
<line class="tk" x1="528.6" y1="80.1" x2="528.6" y2="83.7"/>
<line class="tk" x1="544.7" y1="80.1" x2="544.7" y2="83.7"/>
<line class="tk" x1="560.7" y1="80.1" x2="560.7" y2="83.7"/>
<line class="tk" x1="576.8" y1="80.1" x2="576.8" y2="83.7"/>
<line class="tk" x1="592.9" y1="80.1" x2="592.9" y2="83.7"/>
<line class="tk" x1="608.9" y1="80.1" x2="608.9" y2="83.7"/>
<line class="tk" x1="625" y1="80.1" x2="625" y2="83.7"/>
<line class="tk" x1="641" y1="80.1" x2="641" y2="83.7"/>
<line class="tk" x1="657.1" y1="80.1" x2="657.1" y2="83.7"/>
<line class="tk" x1="673.2" y1="80.1" x2="673.2" y2="83.7"/>
<path class="ax" d="M422.6 10.3V80.1H682.8"/>
<text class="at" transform="translate(392.3,45.2) rotate(-90)">Freq. non-flow</text>
<rect x="442.2" y="165.66" width="8.1" height="19.14" fill="#0A99CC"/>
<rect x="442.2" y="149.82" width="8.1" height="16.34" fill="#FFB515"/>
<rect x="442.2" y="136.54" width="8.1" height="13.78" fill="#66CC00"/>
<rect x="442.2" y="132.38" width="8.1" height="4.66" fill="#FF8800"/>
<rect x="458.4" y="178.48" width="8.1" height="6.32" fill="#FFB515"/>
<rect x="458.4" y="176.18" width="8.1" height="2.80" fill="#FF8800"/>
<rect x="474.6" y="177.31" width="8.1" height="7.49" fill="#FFB515"/>
<rect x="474.6" y="174.98" width="8.1" height="2.83" fill="#66CC00"/>
<rect x="474.6" y="174.78" width="8.1" height="0.70" fill="#FF8800"/>
<rect x="490.8" y="175.45" width="8.1" height="9.35" fill="#FFB515"/>
<rect x="490.8" y="172.65" width="8.1" height="3.30" fill="#66CC00"/>
<rect x="490.8" y="171.99" width="8.1" height="1.16" fill="#FF8800"/>
<rect x="507" y="182.44" width="8.1" height="2.36" fill="#FFB515"/>
<rect x="507" y="181.27" width="8.1" height="1.66" fill="#66CC00"/>
<rect x="507" y="180.61" width="8.1" height="1.16" fill="#FF8800"/>
<rect x="523.2" y="169.39" width="8.1" height="15.41" fill="#FFB515"/>
<rect x="523.2" y="167.52" width="8.1" height="2.36" fill="#66CC00"/>
<rect x="523.2" y="163.60" width="8.1" height="4.43" fill="#FF8800"/>
<rect x="539.4" y="166.13" width="8.1" height="18.67" fill="#FFB515"/>
<rect x="539.4" y="160.53" width="8.1" height="6.09" fill="#66CC00"/>
<rect x="539.4" y="157.77" width="8.1" height="3.26" fill="#FF8800"/>
<rect x="555.6" y="169.39" width="8.1" height="15.41" fill="#FFB515"/>
<rect x="555.6" y="167.76" width="8.1" height="2.13" fill="#66CC00"/>
<rect x="555.6" y="163.60" width="8.1" height="4.66" fill="#FF8800"/>
<rect x="571.8" y="182.00" width="8.1" height="2.80" fill="#FFB515"/>
<rect x="588" y="182.00" width="8.1" height="2.80" fill="#FFB515"/>
<rect x="604.2" y="163.56" width="8.1" height="21.24" fill="#0A99CC"/>
<rect x="604.2" y="145.62" width="8.1" height="18.44" fill="#FFB515"/>
<rect x="604.2" y="127.45" width="8.1" height="18.67" fill="#66CC00"/>
<rect x="604.2" y="120.73" width="8.1" height="7.22" fill="#FF8800"/>
<rect x="620.4" y="170.32" width="8.1" height="14.48" fill="#0A99CC"/>
<rect x="620.4" y="160.53" width="8.1" height="10.29" fill="#FFB515"/>
<rect x="620.4" y="152.38" width="8.1" height="8.66" fill="#66CC00"/>
<rect x="620.4" y="147.99" width="8.1" height="4.89" fill="#FF8800"/>
<rect x="636.6" y="184.33" width="8.1" height="0.47" fill="#FFB515"/>
<rect x="652.8" y="164.26" width="8.1" height="20.54" fill="#0A99CC"/>
<rect x="652.8" y="147.49" width="8.1" height="17.28" fill="#FFB515"/>
<rect x="652.8" y="132.11" width="8.1" height="15.88" fill="#66CC00"/>
<rect x="652.8" y="127.95" width="8.1" height="4.66" fill="#FF8800"/>
<rect x="669" y="176.61" width="8.1" height="8.19" fill="#FFB515"/>
<rect x="669" y="173.35" width="8.1" height="3.76" fill="#66CC00"/>
<rect x="669" y="172.92" width="8.1" height="0.93" fill="#FF8800"/>
<line class="tk" x1="416.5" y1="184.8" x2="420.3" y2="184.8"/>
<text class="yl" x="413.5" y="188">0</text>
<line class="tk" x1="416.5" y1="161.5" x2="420.3" y2="161.5"/>
<text class="yl" x="413.5" y="164.7">100</text>
<line class="tk" x1="416.5" y1="138.2" x2="420.3" y2="138.2"/>
<text class="yl" x="413.5" y="141.4">200</text>
<line class="tk" x1="430" y1="188" x2="430" y2="191.6"/>
<line class="tk" x1="446.2" y1="188" x2="446.2" y2="191.6"/>
<line class="tk" x1="462.4" y1="188" x2="462.4" y2="191.6"/>
<line class="tk" x1="478.6" y1="188" x2="478.6" y2="191.6"/>
<line class="tk" x1="494.8" y1="188" x2="494.8" y2="191.6"/>
<line class="tk" x1="511" y1="188" x2="511" y2="191.6"/>
<line class="tk" x1="527.2" y1="188" x2="527.2" y2="191.6"/>
<line class="tk" x1="543.4" y1="188" x2="543.4" y2="191.6"/>
<line class="tk" x1="559.7" y1="188" x2="559.7" y2="191.6"/>
<line class="tk" x1="575.9" y1="188" x2="575.9" y2="191.6"/>
<line class="tk" x1="592.1" y1="188" x2="592.1" y2="191.6"/>
<line class="tk" x1="608.3" y1="188" x2="608.3" y2="191.6"/>
<line class="tk" x1="624.5" y1="188" x2="624.5" y2="191.6"/>
<line class="tk" x1="640.7" y1="188" x2="640.7" y2="191.6"/>
<line class="tk" x1="656.9" y1="188" x2="656.9" y2="191.6"/>
<line class="tk" x1="673.1" y1="188" x2="673.1" y2="191.6"/>
<path class="ax" d="M420.3 117.8V188H682.8"/>
<text class="at" transform="translate(392.3,152.9) rotate(-90)">Total non-flow</text>
<rect x="426.1" y="260.66" width="3.6" height="24.14" fill="#FF8800"/>
<rect x="429.7" y="281.69" width="3.6" height="3.11" fill="#0A99CC"/>
<rect x="433.3" y="280.91" width="3.6" height="3.89" fill="#66CC00"/>
<rect x="436.9" y="282.85" width="3.6" height="1.95" fill="#FFB515"/>
<rect x="442.1" y="282.85" width="3.6" height="1.95" fill="#FF8800"/>
<rect x="449.3" y="284.41" width="3.6" height="0.39" fill="#66CC00"/>
<rect x="458.1" y="258.72" width="3.6" height="26.08" fill="#FF8800"/>
<rect x="461.7" y="281.69" width="3.6" height="3.11" fill="#0A99CC"/>
<rect x="465.3" y="281.30" width="3.6" height="3.50" fill="#66CC00"/>
<rect x="468.9" y="282.85" width="3.6" height="1.95" fill="#FFB515"/>
<rect x="474.1" y="240.81" width="3.6" height="43.99" fill="#FF8800"/>
<rect x="477.7" y="280.13" width="3.6" height="4.67" fill="#0A99CC"/>
<rect x="481.3" y="277.01" width="3.6" height="7.79" fill="#66CC00"/>
<rect x="484.9" y="280.91" width="3.6" height="3.89" fill="#FFB515"/>
<rect x="490.1" y="238.86" width="3.6" height="45.94" fill="#FF8800"/>
<rect x="493.7" y="280.13" width="3.6" height="4.67" fill="#0A99CC"/>
<rect x="497.3" y="276.62" width="3.6" height="8.18" fill="#66CC00"/>
<rect x="500.9" y="280.91" width="3.6" height="3.89" fill="#FFB515"/>
<rect x="506.1" y="233.02" width="3.6" height="51.78" fill="#FF8800"/>
<rect x="509.7" y="279.74" width="3.6" height="5.06" fill="#0A99CC"/>
<rect x="513.3" y="274.29" width="3.6" height="10.51" fill="#66CC00"/>
<rect x="516.9" y="280.91" width="3.6" height="3.89" fill="#FFB515"/>
<rect x="522.1" y="231.08" width="3.6" height="53.72" fill="#FF8800"/>
<rect x="525.7" y="280.13" width="3.6" height="4.67" fill="#0A99CC"/>
<rect x="529.3" y="273.90" width="3.6" height="10.90" fill="#66CC00"/>
<rect x="532.9" y="282.07" width="3.6" height="2.73" fill="#FFB515"/>
<rect x="538.1" y="229.91" width="3.6" height="54.89" fill="#FF8800"/>
<rect x="541.7" y="280.13" width="3.6" height="4.67" fill="#0A99CC"/>
<rect x="545.3" y="273.90" width="3.6" height="10.90" fill="#66CC00"/>
<rect x="548.9" y="283.24" width="3.6" height="1.56" fill="#FFB515"/>
<rect x="554" y="228.74" width="3.6" height="56.06" fill="#FF8800"/>
<rect x="557.6" y="278.96" width="3.6" height="5.84" fill="#0A99CC"/>
<rect x="561.2" y="273.90" width="3.6" height="10.90" fill="#66CC00"/>
<rect x="564.8" y="284.02" width="3.6" height="0.78" fill="#FFB515"/>
<rect x="570" y="270.01" width="3.6" height="14.79" fill="#FF8800"/>
<rect x="573.6" y="284.02" width="3.6" height="0.78" fill="#0A99CC"/>
<rect x="577.2" y="283.24" width="3.6" height="1.56" fill="#66CC00"/>
<rect x="580.8" y="283.63" width="3.6" height="1.17" fill="#FFB515"/>
<rect x="586" y="271.95" width="3.6" height="12.85" fill="#FF8800"/>
<rect x="602" y="284.41" width="3.6" height="0.39" fill="#FF8800"/>
<rect x="605.6" y="284.41" width="3.6" height="0.39" fill="#0A99CC"/>
<rect x="609.2" y="283.24" width="3.6" height="1.56" fill="#66CC00"/>
<rect x="612.8" y="284.02" width="3.6" height="0.78" fill="#FFB515"/>
<rect x="618" y="283.24" width="3.6" height="1.56" fill="#FF8800"/>
<rect x="625.2" y="284.61" width="3.6" height="0.19" fill="#66CC00"/>
<rect x="634" y="257.94" width="3.6" height="26.86" fill="#FF8800"/>
<rect x="637.6" y="283.83" width="3.6" height="0.97" fill="#0A99CC"/>
<rect x="641.2" y="280.91" width="3.6" height="3.89" fill="#66CC00"/>
<rect x="644.8" y="282.07" width="3.6" height="2.73" fill="#FFB515"/>
<rect x="650" y="284.02" width="3.6" height="0.78" fill="#FF8800"/>
<rect x="666" y="256.38" width="3.6" height="28.42" fill="#FF8800"/>
<rect x="669.6" y="283.83" width="3.6" height="0.97" fill="#0A99CC"/>
<rect x="673.2" y="280.91" width="3.6" height="3.89" fill="#66CC00"/>
<rect x="676.8" y="282.46" width="3.6" height="2.34" fill="#FFB515"/>
<line class="tk" x1="419.9" y1="284.8" x2="423.7" y2="284.8"/>
<text class="yl" x="416.9" y="288">0.0</text>
<line class="tk" x1="419.9" y1="265.3" x2="423.7" y2="265.3"/>
<text class="yl" x="416.9" y="268.5">0.5</text>
<line class="tk" x1="419.9" y1="245.9" x2="423.7" y2="245.9"/>
<text class="yl" x="416.9" y="249.1">1.0</text>
<line class="tk" x1="419.9" y1="226.4" x2="423.7" y2="226.4"/>
<text class="yl" x="416.9" y="229.6">1.5</text>
<line class="tk" x1="433.3" y1="287.6" x2="433.3" y2="291.2"/>
<line class="tk" x1="449.3" y1="287.6" x2="449.3" y2="291.2"/>
<line class="tk" x1="465.3" y1="287.6" x2="465.3" y2="291.2"/>
<line class="tk" x1="481.3" y1="287.6" x2="481.3" y2="291.2"/>
<line class="tk" x1="497.3" y1="287.6" x2="497.3" y2="291.2"/>
<line class="tk" x1="513.3" y1="287.6" x2="513.3" y2="291.2"/>
<line class="tk" x1="529.3" y1="287.6" x2="529.3" y2="291.2"/>
<line class="tk" x1="545.3" y1="287.6" x2="545.3" y2="291.2"/>
<line class="tk" x1="561.2" y1="287.6" x2="561.2" y2="291.2"/>
<line class="tk" x1="577.2" y1="287.6" x2="577.2" y2="291.2"/>
<line class="tk" x1="593.2" y1="287.6" x2="593.2" y2="291.2"/>
<line class="tk" x1="609.2" y1="287.6" x2="609.2" y2="291.2"/>
<line class="tk" x1="625.2" y1="287.6" x2="625.2" y2="291.2"/>
<line class="tk" x1="641.2" y1="287.6" x2="641.2" y2="291.2"/>
<line class="tk" x1="657.2" y1="287.6" x2="657.2" y2="291.2"/>
<line class="tk" x1="673.2" y1="287.6" x2="673.2" y2="291.2"/>
<text class="xl" x="433.3" y="299.8">01A</text>
<text class="xl" x="449.3" y="299.8">02A</text>
<text class="xl" x="465.3" y="299.8">03A</text>
<text class="xl" x="481.3" y="299.8">04A</text>
<text class="xl" x="497.3" y="299.8">05A</text>
<text class="xl" x="513.3" y="299.8">06A</text>
<text class="xl" x="529.3" y="299.8">07A</text>
<text class="xl" x="545.3" y="299.8">08A</text>
<text class="xl" x="561.2" y="299.8">09A</text>
<text class="xl" x="577.2" y="299.8">10E</text>
<text class="xl" x="593.2" y="299.8">11E</text>
<text class="xl" x="609.2" y="299.8">12E</text>
<text class="xl" x="625.2" y="299.8">13E</text>
<text class="xl" x="641.2" y="299.8">14E</text>
<text class="xl" x="657.2" y="299.8">15E</text>
<text class="xl" x="673.2" y="299.8">16E</text>
<path class="ax" d="M423.7 225.9V287.6H682.8"/>
<text class="at" style="font-size:13.1px" transform="translate(395.6,257.1) rotate(-90)">log Qmean (m<tspan dx="0.6" dy="-5" font-size="9.2">3</tspan><tspan dy="5"> /s)</tspan></text>
<rect x="472.3" y="315.5" width="8.7" height="8.7" fill="#FF8800"/>
<text class="lg" x="489.6" y="323.6">Aut</text>
<rect x="513.7" y="315.5" width="8.7" height="8.7" fill="#0A99CC"/>
<text class="lg" x="530.1" y="323.6">Win</text>
<rect x="556.6" y="315.5" width="8.7" height="8.7" fill="#66CC00"/>
<text class="lg" x="573.5" y="323.6">Sprg</text>
<rect x="604.3" y="315.5" width="8.7" height="8.7" fill="#FFB515"/>
<text class="lg" x="621.7" y="323.6">Sum</text>
<rect x="425.9" y="391.44" width="8.1" height="5.36" fill="#7CFC00"/>
<rect x="425.9" y="342.80" width="8.1" height="49.14" fill="#006400"/>
<rect x="442.1" y="385.50" width="8.1" height="11.30" fill="#7CFC00"/>
<rect x="442.1" y="353.60" width="8.1" height="32.40" fill="#006400"/>
<rect x="458.3" y="380.64" width="8.1" height="16.16" fill="#A52A2A"/>
<rect x="458.3" y="354.72" width="8.1" height="26.42" fill="#006400"/>
<rect x="458.3" y="342.80" width="8.1" height="12.42" fill="#FF8C00"/>
<rect x="474.5" y="356.34" width="8.1" height="40.46" fill="#006400"/>
<rect x="474.5" y="342.80" width="8.1" height="14.04" fill="#FF8C00"/>
<rect x="490.7" y="377.40" width="8.1" height="19.40" fill="#A52A2A"/>
<rect x="490.7" y="354.18" width="8.1" height="23.72" fill="#006400"/>
<rect x="490.7" y="342.80" width="8.1" height="11.88" fill="#FF8C00"/>
<rect x="506.9" y="389.82" width="8.1" height="6.98" fill="#7CFC00"/>
<rect x="506.9" y="370.92" width="8.1" height="19.40" fill="#A52A2A"/>
<rect x="506.9" y="346.08" width="8.1" height="25.34" fill="#006400"/>
<rect x="506.9" y="342.80" width="8.1" height="3.78" fill="#FF8C00"/>
<rect x="523.1" y="392.68" width="8.1" height="4.12" fill="#7CFC00"/>
<rect x="523.1" y="374.32" width="8.1" height="18.86" fill="#006400"/>
<rect x="523.1" y="342.80" width="8.1" height="32.02" fill="#FF8C00"/>
<rect x="539.3" y="369.84" width="8.1" height="26.96" fill="#A52A2A"/>
<rect x="539.3" y="355.80" width="8.1" height="14.54" fill="#006400"/>
<rect x="539.3" y="346.58" width="8.1" height="9.72" fill="#FF8C00"/>
<rect x="555.6" y="380.64" width="8.1" height="16.16" fill="#7CFC00"/>
<rect x="555.6" y="373.62" width="8.1" height="7.52" fill="#A52A2A"/>
<rect x="555.6" y="362.82" width="8.1" height="11.30" fill="#006400"/>
<rect x="555.6" y="349.82" width="8.1" height="13.50" fill="#FF8C00"/>
<rect x="571.8" y="388.20" width="8.1" height="8.60" fill="#7CFC00"/>
<rect x="571.8" y="342.80" width="8.1" height="45.90" fill="#006400"/>
<rect x="588" y="377.40" width="8.1" height="19.40" fill="#7CFC00"/>
<rect x="588" y="351.98" width="8.1" height="25.92" fill="#006400"/>
<rect x="604.2" y="394.68" width="8.1" height="2.12" fill="#7CFC00"/>
<rect x="604.2" y="342.80" width="8.1" height="52.38" fill="#006400"/>
<rect x="620.4" y="375.24" width="8.1" height="21.56" fill="#7CFC00"/>
<rect x="620.4" y="343.34" width="8.1" height="32.40" fill="#006400"/>
<rect x="636.6" y="394.68" width="8.1" height="2.12" fill="#7CFC00"/>
<rect x="636.6" y="346.62" width="8.1" height="48.56" fill="#006400"/>
<rect x="636.6" y="346.04" width="8.1" height="1.08" fill="#FF8C00"/>
<rect x="652.8" y="381.18" width="8.1" height="15.62" fill="#7CFC00"/>
<rect x="652.8" y="355.80" width="8.1" height="25.88" fill="#006400"/>
<rect x="652.8" y="356.03" width="8.1" height="0.27" fill="#FF8C00"/>
<rect x="669" y="372.54" width="8.1" height="24.26" fill="#A52A2A"/>
<rect x="669" y="363.36" width="8.1" height="9.68" fill="#006400"/>
<rect x="669" y="342.80" width="8.1" height="21.06" fill="#FF8C00"/>
<line class="tk" x1="416.4" y1="396.8" x2="420.2" y2="396.8"/>
<text class="yl" x="413.4" y="400">0</text>
<line class="tk" x1="416.4" y1="383.3" x2="420.2" y2="383.3"/>
<text class="yl" x="413.4" y="386.5">25</text>
<line class="tk" x1="416.4" y1="369.8" x2="420.2" y2="369.8"/>
<text class="yl" x="413.4" y="373">50</text>
<line class="tk" x1="416.4" y1="356.3" x2="420.2" y2="356.3"/>
<text class="yl" x="413.4" y="359.5">75</text>
<line class="tk" x1="416.4" y1="342.8" x2="420.2" y2="342.8"/>
<text class="yl" x="413.4" y="346">100</text>
<line class="tk" x1="429.9" y1="399.5" x2="429.9" y2="403.1"/>
<line class="tk" x1="446.1" y1="399.5" x2="446.1" y2="403.1"/>
<line class="tk" x1="462.3" y1="399.5" x2="462.3" y2="403.1"/>
<line class="tk" x1="478.6" y1="399.5" x2="478.6" y2="403.1"/>
<line class="tk" x1="494.8" y1="399.5" x2="494.8" y2="403.1"/>
<line class="tk" x1="511" y1="399.5" x2="511" y2="403.1"/>
<line class="tk" x1="527.2" y1="399.5" x2="527.2" y2="403.1"/>
<line class="tk" x1="543.4" y1="399.5" x2="543.4" y2="403.1"/>
<line class="tk" x1="559.6" y1="399.5" x2="559.6" y2="403.1"/>
<line class="tk" x1="575.8" y1="399.5" x2="575.8" y2="403.1"/>
<line class="tk" x1="592" y1="399.5" x2="592" y2="403.1"/>
<line class="tk" x1="608.2" y1="399.5" x2="608.2" y2="403.1"/>
<line class="tk" x1="624.4" y1="399.5" x2="624.4" y2="403.1"/>
<line class="tk" x1="640.7" y1="399.5" x2="640.7" y2="403.1"/>
<line class="tk" x1="656.9" y1="399.5" x2="656.9" y2="403.1"/>
<line class="tk" x1="673.1" y1="399.5" x2="673.1" y2="403.1"/>
<text class="xl" x="429.9" y="411.6">01A</text>
<text class="xl" x="446.1" y="411.6">02A</text>
<text class="xl" x="462.3" y="411.6">03A</text>
<text class="xl" x="478.6" y="411.6">04A</text>
<text class="xl" x="494.8" y="411.6">05A</text>
<text class="xl" x="511" y="411.6">06A</text>
<text class="xl" x="527.2" y="411.6">07A</text>
<text class="xl" x="543.4" y="411.6">08A</text>
<text class="xl" x="559.6" y="411.6">09A</text>
<text class="xl" x="575.8" y="411.6">10E</text>
<text class="xl" x="592" y="411.6">11E</text>
<text class="xl" x="608.2" y="411.6">12E</text>
<text class="xl" x="624.4" y="411.6">13E</text>
<text class="xl" x="640.7" y="411.6">14E</text>
<text class="xl" x="656.9" y="411.6">15E</text>
<text class="xl" x="673.1" y="411.6">16E</text>
<path class="ax" d="M420.2 340.1V399.5H682.8"/>
<text class="at" transform="translate(392.3,369.8) rotate(-90)">% Land use</text>
<rect x="447.9" y="426.6" width="9" height="9" fill="#FF8C00"/>
<text class="lg" x="465.1" y="434.6">crops</text>
<rect x="498.7" y="426.6" width="9" height="9" fill="#006400"/>
<text class="lg" x="516.2" y="434.6">forest</text>
<rect x="550.2" y="426.6" width="9" height="9" fill="#A52A2A"/>
<text class="lg" x="567.7" y="434.6">orchard</text>
<rect x="611.4" y="426.6" width="9" height="9" fill="#7CFC00"/>
<text class="lg" x="628.4" y="434.6">pasture</text>
<defs><clipPath id="orc"><path d="M240 560H283.2V572.6H290V586H240Z"/></clipPath></defs>
<g class="vl">
<g><text x="246.3" y="476.2">Freq. Non-flow</text></g>
<g><text x="257.2" y="501.4">Dur. Non-flow</text></g>
<g><text x="359.6" y="482.3">Total non-flow</text></g>
<g><text x="350.6" y="522.2">Pasture</text></g>
<g><text x="369.3" y="549.4">D84/D50</text></g>
<g><text x="459" y="583.7">LAI</text></g>
<g><text x="442.4" y="603.7">Slope</text></g>
<g><text x="430" y="633.1">Forest</text></g>
<g><text x="352.3" y="666.1">D95</text></g>
<g><text x="388.2" y="701.8">D84</text></g>
<g><text x="325.7" y="700.3">D50</text></g>
<g><text x="228.3" y="558.3">Crops</text></g>
<g clip-path="url(#orc)"><text x="256.9" y="579.8">Orchard</text></g>
<g><text x="221.4" y="577.9">w</text></g>
<g><text x="195.8" y="597.2">Q5</text></g>
<g><text x="227.2" y="600.4">Solar rad.</text></g>
<g><text x="200" y="621.3">Q mean</text></g>
<g><text x="226.1" y="642.2">Q max</text></g>
</g>
<rect fill="#fff" x="232.6" y="591.2" width="15.8" height="7.2"/>
<line class="dl" x1="191" y1="578.4" x2="485.5" y2="578.4"/>
<line class="dl" x1="338.4" y1="735.1" x2="338.4" y2="460.5"/>
<circle cx="400.9" cy="478" r="2.9" fill="#FF0000"/>
<circle cx="459.8" cy="492.8" r="2.9" fill="#FF0000"/>
<circle cx="408.1" cy="528.7" r="2.9" fill="#FF0000"/>
<circle cx="472.5" cy="570" r="2.9" fill="#FF0000"/>
<circle cx="390.5" cy="596.6" r="2.9" fill="#FF0000"/>
<circle cx="375.4" cy="635.3" r="2.9" fill="#FF0000"/>
<circle cx="458.8" cy="644.2" r="2.9" fill="#FF0000"/>
<circle cx="390.2" cy="722.3" r="2.9" fill="#FF0000"/>
<circle cx="262.7" cy="648.9" r="2.9" fill="#FF0000"/>
<circle cx="278.1" cy="543" r="2.9" fill="#FF0000"/>
<circle cx="316.9" cy="548.8" r="2.9" fill="#FF0000"/>
<circle cx="211.1" cy="548" r="2.9" fill="#FF0000"/>
<circle cx="204.4" cy="556" r="2.9" fill="#FF0000"/>
<circle cx="269.2" cy="571.4" r="2.9" fill="#FF0000"/>
<circle cx="289.7" cy="576" r="2.9" fill="#FF0000"/>
<circle cx="226.2" cy="596.4" r="2.9" fill="#FF0000"/>
<g fill="none" stroke="#5E5E5E" stroke-width="1.3" stroke-linejoin="miter">
<path d="M338.4 578.4L353 472.4M355.8 479.9L353 472.4L348.3 478.9"/>
<path d="M338.4 578.4L368.3 494.9M369.5 502.8L368.3 494.9L362.4 500.3"/>
<path d="M338.4 578.4L383.6 488.3M383.8 496.3L383.6 488.3L377.1 492.9"/>
<path d="M338.4 578.4L390.8 528.6M388.3 536.2L390.8 528.6L383.1 530.7"/>
<path d="M338.4 578.4L412.1 556.2M406.4 561.8L412.1 556.2L404.3 554.6"/>
<path d="M338.4 578.4L452.5 573.5M445.6 577.6L452.5 573.5L445.3 570.1"/>
<path d="M338.4 578.4L450 610.1M442.2 611.8L450 610.1L444.2 604.6"/>
<path d="M338.4 578.4L439.1 639.7M431.1 639.2L439.1 639.7L435 632.8"/>
<path d="M338.4 578.4L378.6 672.2M372.4 667.2L378.6 672.2L379.3 664.2"/>
<path d="M338.4 578.4L389.4 684.2M382.9 679.5L389.4 684.2L389.7 676.2"/>
<path d="M338.4 578.4L352.4 683.4M347.7 676.9L352.4 683.4L355.2 675.9"/>
<path d="M338.4 578.4L238.2 564.7M245.7 561.9L238.2 564.7L244.7 569.4"/>
<path d="M338.4 578.4L250.6 564.7M258.2 562.1L250.6 564.7L257 569.5"/>
<path d="M338.4 578.4L210.4 584.3M217.3 580.2L210.4 584.3L217.6 587.7"/>
<path d="M338.4 578.4L213.3 601M219.6 596L213.3 601L220.9 603.4"/>
<path d="M338.4 578.4L213.7 583M220.6 579L213.7 583L220.9 586.5"/>
<path d="M338.4 578.4L213.9 604.6M220 599.5L213.9 604.6L221.6 606.8"/>
<path d="M338.4 578.4L215.4 606M221.5 600.8L215.4 606L223.1 608.1"/>
</g>
<g stroke="#666" stroke-width="0.5" fill="none">
<path d="M351.4 496.5L368.3 495.1"/>
<path d="M223.7 635.8L214.6 604"/>
<path d="M214.3 584.8L223.6 593.7"/>
</g>
<g class="il">
<text x="406.2" y="480.4">15E</text>
<text x="463.6" y="496.4">13E</text>
<text x="411.8" y="532.4">02A</text>
<text x="477" y="571.7">12E</text>
<text x="395" y="598.9">11E</text>
<text x="379.7" y="636.9">01A</text>
<text x="463.9" y="646.1">10E</text>
<text x="395.5" y="724.1">14E</text>
<text x="266.8" y="650.2">06A</text>
<text x="282.7" y="544.9">16E</text>
<text x="320.8" y="552.4">03A</text>
<text x="215.3" y="550">09A</text>
<text x="208.5" y="557.9">08A</text>
<text x="274.1" y="571.9">05A</text>
<text x="292.3" y="577.7">04A</text>
<text x="230.9" y="598.3">07A</text>
</g>
<path class="ax" d="M191 460.5V735.1H485.5"/>
<line class="tk" x1="187.1" y1="513.9" x2="191" y2="513.9"/>
<text class="pyl" x="183.4" y="517.9">2</text>
<line class="tk" x1="187.1" y1="578.4" x2="191" y2="578.4"/>
<text class="pyl" x="183.4" y="582.4">0</text>
<line class="tk" x1="187.1" y1="642.9" x2="191" y2="642.9"/>
<text class="pyl" x="183.4" y="646.9">-2</text>
<line class="tk" x1="187.1" y1="707.4" x2="191" y2="707.4"/>
<text class="pyl" x="183.4" y="711.4">-4</text>
<line class="tk" x1="257.8" y1="735.1" x2="257.8" y2="739"/>
<text class="pxl" x="257.8" y="750.8">-2.5</text>
<line class="tk" x1="338.4" y1="735.1" x2="338.4" y2="739"/>
<text class="pxl" x="338.4" y="750.8">0.0</text>
<line class="tk" x1="419" y1="735.1" x2="419" y2="739"/>
<text class="pxl" x="419" y="750.8">2.5</text>
<text class="pat" x="338.4" y="766.2">Dim1 (44.8%)</text>
<text class="pat" style="font-size:15.1px" transform="translate(166.9,598.1) rotate(-90)">Dim2 (20.7%)</text>
</svg></body></html>
